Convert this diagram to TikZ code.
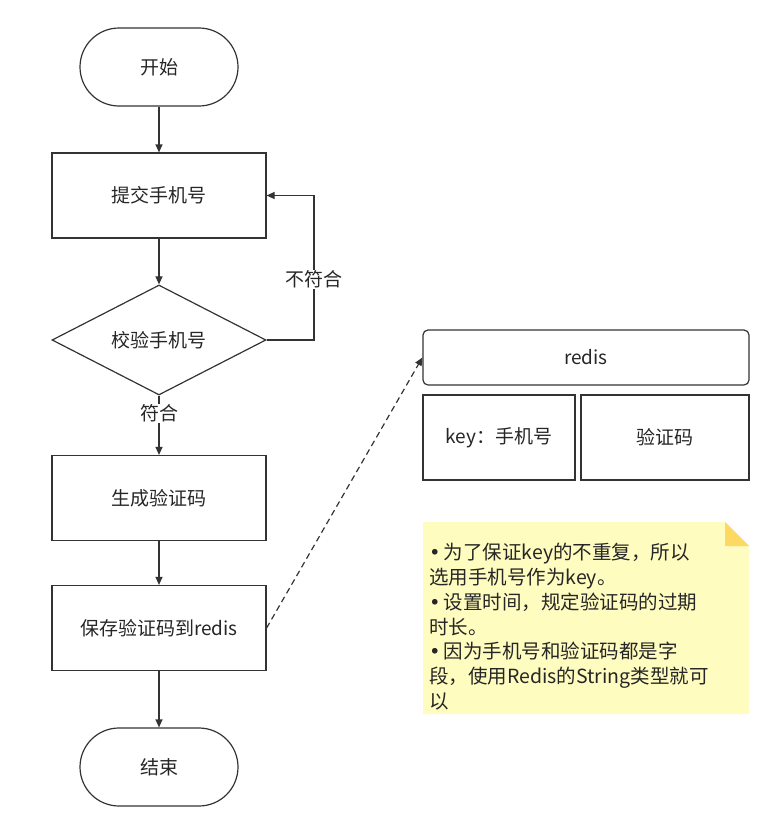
\documentclass[tikz,border=0pt]{standalone}
\usepackage{fontspec}
\setmainfont{Noto Sans CJK SC}
\newfontfamily\bulfont{DejaVu Sans}
\newcommand{\bul}{{\bulfont •}\,}
\usetikzlibrary{arrows.meta,shapes.geometric}
\begin{document}
\begin{tikzpicture}[x=1pt,y=-1pt,
  every node/.style={font=\fontsize{19}{22}\selectfont,text=black!85},
  box/.style={draw=black!80,line width=1.2pt,minimum width=214pt,minimum height=85pt},
  term/.style={draw=black!80,line width=1.2pt,rounded corners=39pt,minimum width=158pt,minimum height=78pt},
  arr/.style={-{Triangle[length=8pt,width=7pt]},line width=1.2pt,draw=black!80},
  cell/.style={draw=black!80,line width=1.2pt}]
\useasboundingbox (0,0) rectangle (769,814);
\node[term] (start) at (159,67) {开始};
\node[box] (submit) at (159,195.5) {提交手机号};
\node[diamond,draw=black!80,line width=1.2pt,minimum width=214pt,minimum height=110pt,aspect=1.95,inner sep=0pt] (check) at (159,340) {校验手机号};
\node[box] (gen) at (159,498) {生成验证码};
\node[box] (save) at (159,628) {保存验证码到redis};
\node[term] (end) at (159,767) {结束};
\draw[arr] (start) -- (submit);
\draw[arr] (submit) -- (check);
\draw[arr] (check) -- node[fill=white,inner sep=1pt,pos=0.3]{符合} (gen);
\draw[arr] (gen) -- (save);
\draw[arr] (save) -- (end);
\coordinate (c1) at (314,340);
\coordinate (c2) at (314,195.5);
\draw[arr] (check.east) -- (c1) -- node[fill=white,inner sep=1pt,pos=0.42]{不符合} (c2) -- (submit.east);
\node[cell,rounded corners=5pt,minimum width=326pt,minimum height=55pt] (redis) at (586,357.5) {redis};
\node[cell,minimum width=152pt,minimum height=85pt] (key) at (499,437.5) {key：手机号};
\node[cell,minimum width=168pt,minimum height=85pt] (code) at (665,437.5) {验证码};
\draw[arr,dash pattern=on 6pt off 4pt] (save.east) -- (redis.west);
\fill[yellow!25] (423,522) -- (725,522) -- (749,546) -- (749,714) -- (423,714) -- cycle;
\fill[yellow!55!orange!60] (725,522) -- (725,546) -- (749,546) -- cycle;
\node[anchor=north west,align=left,text width=310pt,inner sep=0pt,font=\fontsize{19.5}{24.8}\selectfont] (note) at (429,543) {\bul 为了保证key的不重复，所以\\选用手机号作为key。\\\bul 设置时间，规定验证码的过期\\时长。\\\bul 因为手机号和验证码都是字\\段，使用Redis的String类型就可\\以};
\end{tikzpicture}
\end{document}
